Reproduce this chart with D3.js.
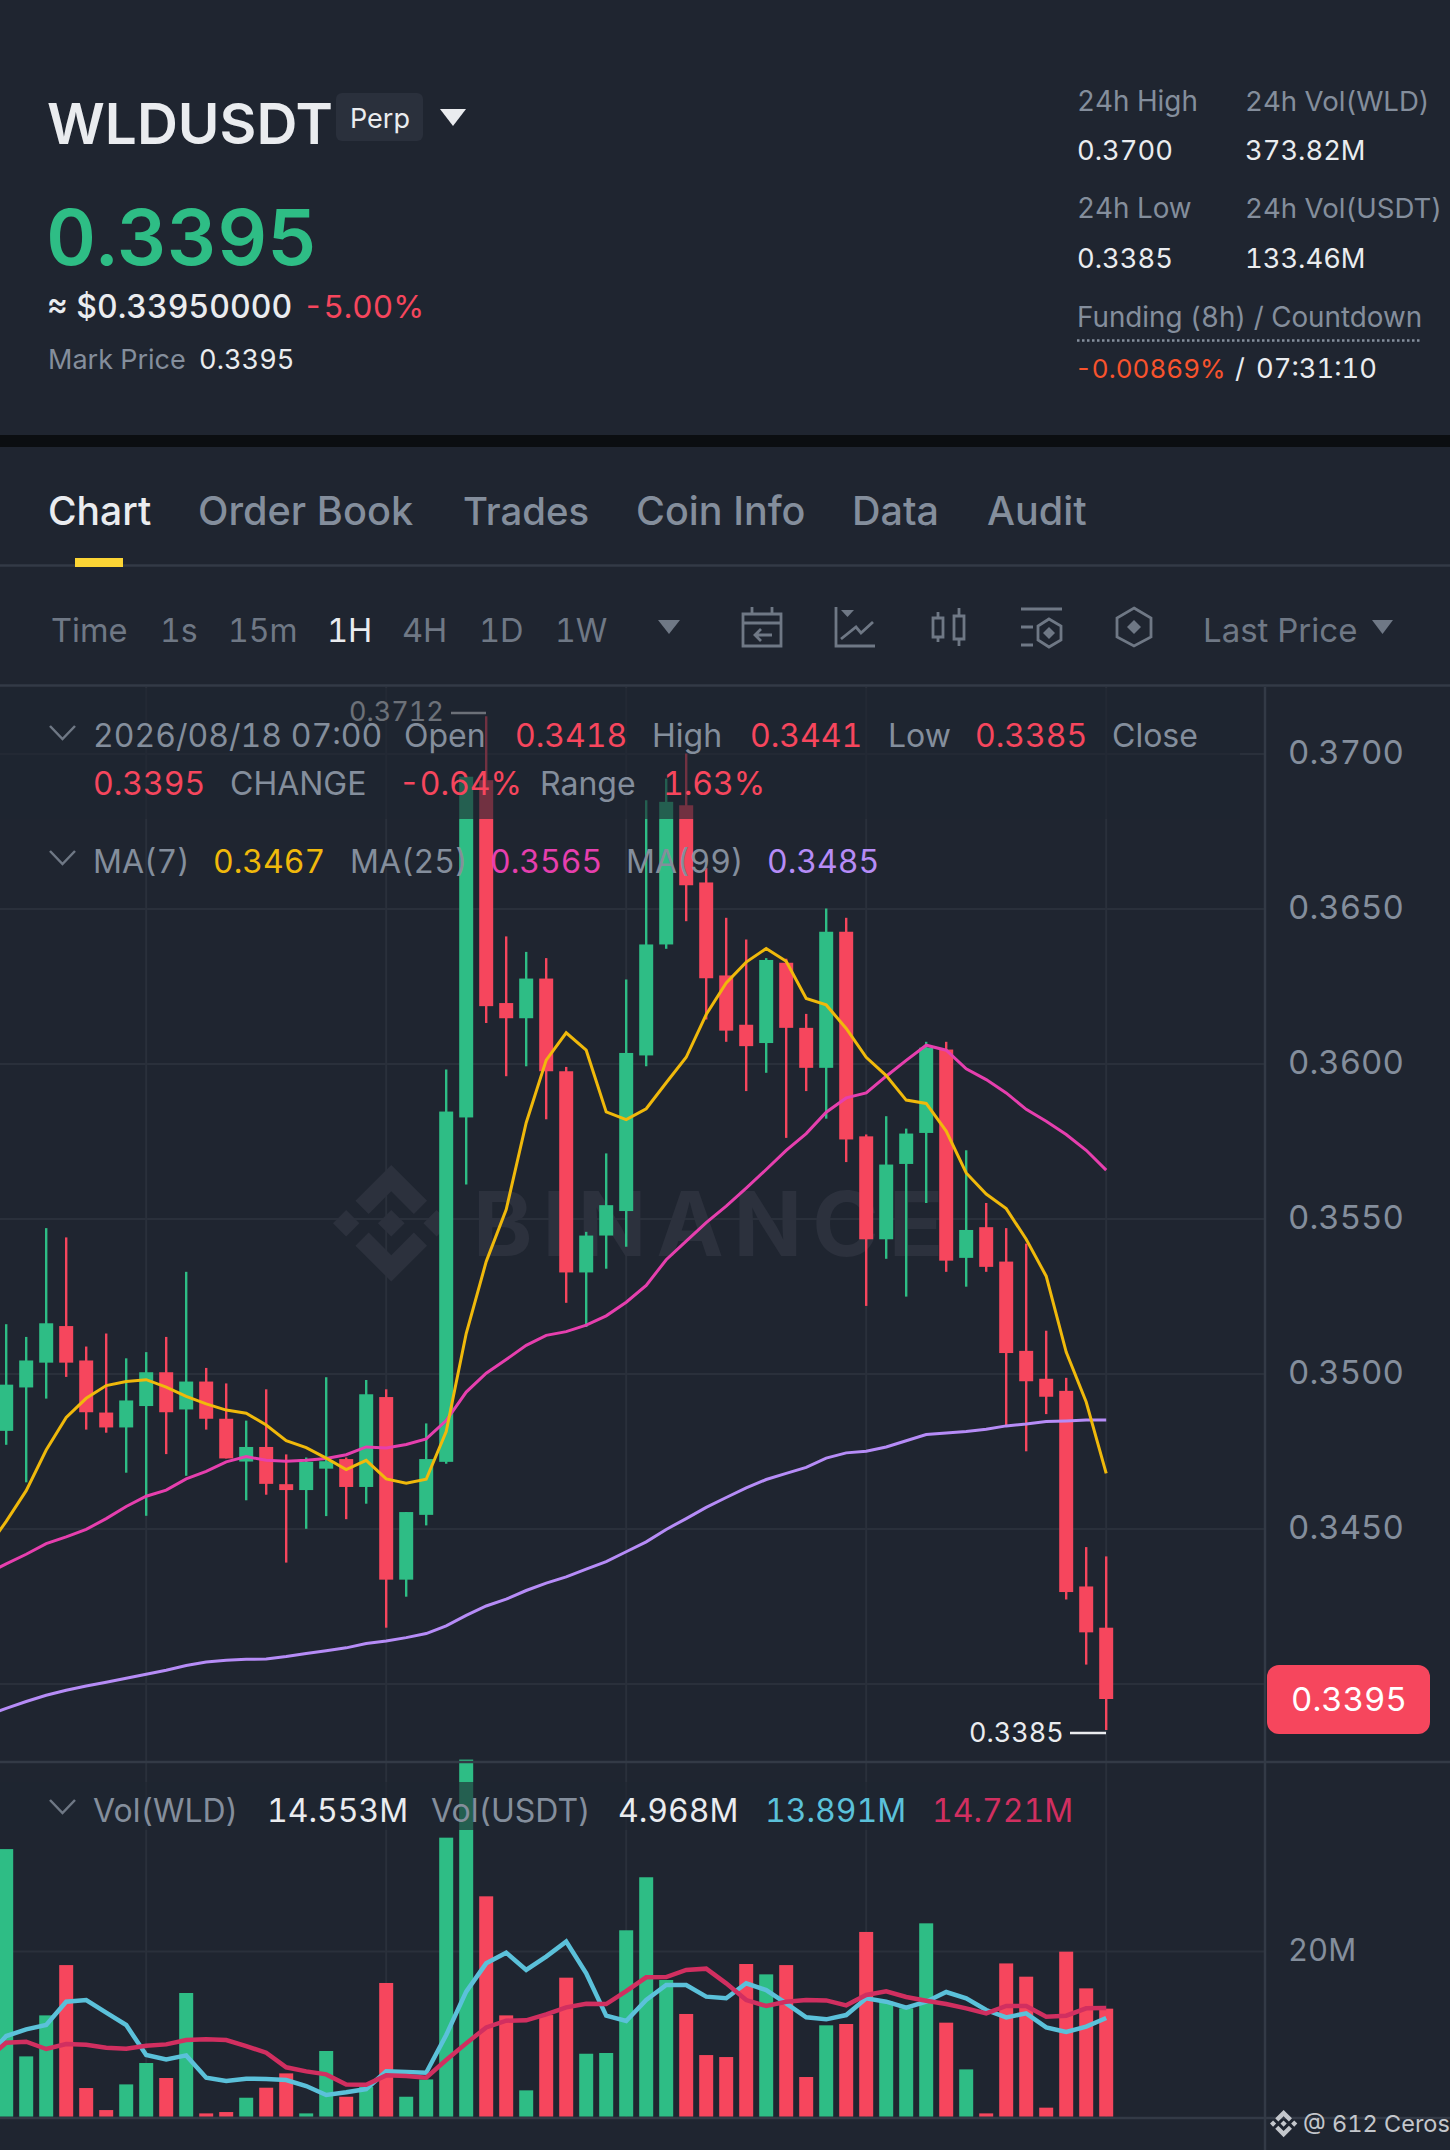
<!DOCTYPE html>
<html>
<head>
<meta charset="utf-8">
<script src="https://cdnjs.cloudflare.com/ajax/libs/d3/7.8.5/d3.min.js"></script>
<style>
  html, body { margin: 0; padding: 0; background: #1f2530; }
  svg { display: block; }
  text { font-family: Inter, sans-serif; font-variant-numeric: tabular-nums; }
  .axis path { display: none; }
  .grid line { stroke: #2a303b; stroke-width: 2; }
  .grid text { display: none; }
  .yaxis text { fill: #848e9c; font-size: 33px; }
  .yaxis line { display: none; }
</style>
</head>
<body>
<svg id="chart" width="1450" height="2150"></svg>
<script>
// hourly candles
const opens  = [.34815,.34955,.35035,.35153,.35042,.34874,.34826,.34895,.35004,.34884,.34974,.34854,.34716,.34763,.34643,.34624,.34693,.34724,.34634,.34924,.34335,.34544,.34715,.35826,.36914,.36195,.36146,.36274,.35975,.35326,.35445,.35524,.36026,.36384,.36833,.36584,.36284,.36125,.36066,.36325,.36115,.35986,.36425,.35765,.35433,.35676,.35776,.36045,.35373,.35472,.35361,.35073,.34983,.34944,.34313,.3418];
const highs  = [.35159,.35118,.35469,.35439,.35087,.35129,.35049,.35069,.35118,.35328,.35018,.34968,.34848,.34949,.34739,.34729,.34988,.34729,.34979,.34949,.34553,.34839,.35981,.36925,.3712,.3641,.3636,.3634,.35989,.35457,.3571,.36271,.36849,.36919,.37,.36631,.3647,.364,.3634,.36338,.3616,.365,.3647,.35771,.3583,.3579,.3607,.3607,.3572,.3555,.35469,.35419,.35138,.34986,.3444,.3441];
const lows   = [.3477,.34649,.34919,.34989,.34819,.34809,.3468,.34541,.3474,.3467,.34819,.34726,.34591,.34609,.3439,.34499,.3454,.3453,.3458,.3418,.3428,.3451,.34709,.3561,.36131,.35959,.35991,.3582,.35228,.3515,.35338,.35409,.35991,.3637,.36459,.36142,.3607,.35911,.3597,.3576,.35911,.35822,.35682,.35218,.3537,.35248,.3555,.35328,.3528,.35328,.34834,.34749,.34869,.34271,.34061,.3385];
const closes = [.34964,.35042,.35162,.35035,.34875,.34826,.34913,.35004,.34875,.34974,.34854,.34726,.34763,.34644,.34624,.34715,.34717,.34634,.34933,.34335,.34553,.34724,.35845,.36925,.36185,.36146,.36274,.35975,.35326,.35445,.35543,.36034,.36384,.36844,.36575,.36275,.36106,.36056,.36334,.36115,.35986,.36425,.35755,.35433,.35674,.35774,.36051,.35364,.35463,.35344,.35066,.34975,.34925,.34295,.34165,.3395];

// moving averages start one candle earlier, off the left edge
const ma7  = [.34431,.34523,.34622,.34753,.34858,.3492,.34961,.34974,.3498,.34956,.34926,.34902,.34882,.34872,.34834,.34783,.34761,.34727,.3469,.3472,.3466,.34646,.34659,.34813,.35129,.35361,.35529,.35809,.36011,.36099,.36043,.35844,.35819,.35854,.35938,.3602,.36158,.3626,.36327,.36371,.3633,.3621,.36189,.36113,.3602,.35961,.35882,.35871,.35782,.35647,.35579,.35532,.35433,.35314,.35069,.34908,.34678];
const ma25 = [.34353,.34386,.34417,.34451,.34473,.34497,.34532,.34571,.34604,.34624,.3466,.34684,.34715,.34732,.3472,.34717,.3472,.34726,.34738,.34763,.3476,.34771,.34789,.34848,.3494,.35001,.35045,.35091,.35123,.35135,.35156,.35186,.3523,.35284,.35367,.35427,.35487,.3554,.35598,.35658,.3572,.35774,.35843,.35889,.35905,.35959,.3601,.36059,.36043,.35983,.35948,.35905,.35852,.35814,.35771,.3572,.35656];
const ma99 = [.33896,.3392,.33942,.33962,.33978,.33992,.34004,.34017,.3403,.34043,.34058,.34069,.34075,.34078,.34079,.34087,.34097,.34106,.34115,.34129,.34137,.34148,.34161,.34186,.3422,.3425,.34272,.343,.34324,.34344,.34369,.34393,.34425,.34457,.34497,.34532,.34568,.346,.34631,.34658,.34678,.34697,.34727,.34744,.34749,.34763,.34783,.34803,.34808,.34813,.3482,.34831,.34837,.34845,.34847,.3485,.3485];

// volume in millions
const volumes = [32.3,7.28,12.23,18.3,3.46,.8,3.9,6.48,4.67,14.93,.4,.56,2.29,3.5,5.23,.4,7.93,2.41,3.62,16.14,2.41,4.5,33.68,43.1,26.6,12.23,3.18,12.27,16.78,7.6,7.69,22.5,28.9,16.5,12.4,7.44,7.2,18.43,17.18,18.3,4.79,11.03,11.19,22.3,13.9,13.08,23.34,11.35,5.71,.4,18.5,16.9,1.09,19.92,15.49,13.04];
const volMaShort = [7.04,9.74,10.54,11.07,13.88,14.08,12.56,11.07,7.44,6.92,7.4,4.71,4.31,4.59,4.55,4.43,3.7,2.62,2.94,3.34,5.47,5.39,5.31,9.86,15.09,18.51,19.8,17.71,19.32,21.13,17.3,12.19,11.55,14.08,15.9,15.9,14.49,14.29,16.1,15.29,13.68,11.99,11.75,12.27,14.29,13.88,13.16,13.88,15.05,14.29,12.88,11.99,12.47,10.78,10.22,10.87,11.91];
const volMaLong  = [6.84,8.93,9.05,8.17,8.77,8.69,8.33,8.21,8.57,8.73,9.26,9.34,9.26,8.53,7.73,5.96,5.47,5.11,3.9,3.86,4.99,4.91,4.71,6.84,8.85,10.78,11.59,11.63,12.35,13.2,13.64,13.6,15.17,16.82,16.86,17.71,17.87,16.1,14.08,13.36,13.88,14.08,14.04,13.44,14.69,15.13,14.45,14,13.6,13.08,12.47,13.36,13.36,12.07,12.19,13.08,13.12];

const priceTicks = [.37,.365,.36,.355,.35,.345,.34];
const priceLabels = [.37,.365,.36,.355,.35,.345];
const volTicks = [20];
const gridCandles = [7,19,31,43,55];

const GREEN = '#2ebd85', RED = '#f6465d', MUTED = '#848e9c', DIM = '#6f7885', WHITE = '#eaecef';
const BG = '#1f2530', LINE = '#333a46';
const LOGO = 'M38.73 53.2l24.59-24.58 24.6 24.6 14.3-14.31L63.32 0 24.43 38.9zM0 63.31l14.3-14.31 14.31 14.31-14.31 14.3zM38.73 73.41l24.59 24.59 24.6-24.6 14.31 14.29-38.9 38.91-38.91-38.88-.02-.02zM98.32 63.31l14.3-14.31 14.31 14.31-14.31 14.3zM77.83 63.3L63.32 48.78 52.59 59.51l-1.24 1.23-2.54 2.54 14.51 14.5 14.51-14.47z';

const svg = d3.select('#chart');

const x = d3.scaleLinear().domain([0, 55]).range([6.2, 1106.2]);
const yPrice = d3.scaleLinear().domain([.34, .37]).range([1683.5, 753.5]);
const yVol = d3.scaleLinear().domain([0, 20]).range([2116.7, 1951]);

function label(x0, y0, str, size, fill, weight) {
  return svg.append('text').attr('x', x0).attr('y', y0)
    .attr('font-size', size).attr('fill', fill).attr('font-weight', weight || 400)
    .text(str);
}
function tri(x0, x1, y0, y1, fill) {
  svg.append('path').attr('fill', fill)
    .attr('d', `M${x0},${y0}L${x1},${y0}L${(x0 + x1) / 2},${y1}Z`);
}
function chevron(y0) {
  svg.append('path').attr('fill', 'none').attr('stroke', DIM).attr('stroke-width', 2.5)
    .attr('d', `M50,${y0}L62.5,${y0 + 13}L75,${y0}`);
}

// header
label(47, 144, 'WLDUSDT', 56.7, WHITE, 600);
svg.append('rect').attr('x', 336).attr('y', 93).attr('width', 87).attr('height', 48).attr('rx', 6).attr('fill', '#2a303c');
label(350, 128, 'Perp', 27, WHITE);
tri(440, 466, 109, 126, WHITE);
label(46, 265, '0.3395', 77.5, GREEN, 600);
label(47, 318, '≈ $0.33950000', 32, WHITE, 500);
label(303, 318, '-5.00%', 31.5, RED);
label(48, 369, 'Mark Price', 27, MUTED);
label(199, 369, '0.3395', 27.2, WHITE);

label(1077, 111, '24h High', 27.8, MUTED);
label(1245, 111, '24h Vol(WLD)', 27.6, MUTED);
label(1077, 159.5, '0.3700', 27.3, WHITE);
label(1245, 159.5, '373.82M', 27.3, WHITE);
label(1077, 218, '24h Low', 27.8, MUTED);
label(1245, 218, '24h Vol(USDT)', 27.6, MUTED);
label(1077, 267.5, '0.3385', 27.3, WHITE);
label(1245, 267.5, '133.46M', 27.3, WHITE);
label(1077, 327, 'Funding (8h) / Countdown', 27.8, MUTED);
svg.append('line').attr('x1', 1077).attr('x2', 1422).attr('y1', 340.5).attr('y2', 340.5)
  .attr('stroke', MUTED).attr('stroke-width', 2.5).attr('stroke-dasharray', '2.5 2.5');
label(1075, 378, '-0.00869%', 26, '#f8532d');
label(1235, 378, '/', 27.3, WHITE);
label(1256, 378, '07:31:10', 27.3, WHITE);

svg.append('rect').attr('x', 0).attr('y', 435).attr('width', 1450).attr('height', 12).attr('fill', '#0b0e11');

// tabs
label(48, 525, 'Chart', 39, WHITE, 500);
label(198, 525, 'Order Book', 39.7, MUTED, 500);
label(463, 525, 'Trades', 38.3, MUTED, 500);
label(636, 525, 'Coin Info', 39.5, MUTED, 500);
label(852, 525, 'Data', 39.5, MUTED, 500);
label(987, 525, 'Audit', 39.5, MUTED, 500);
svg.append('line').attr('x1', 0).attr('x2', 1450).attr('y1', 565.5).attr('y2', 565.5).attr('stroke', LINE).attr('stroke-width', 2.5);
svg.append('rect').attr('x', 75).attr('y', 558).attr('width', 48).attr('height', 9).attr('fill', '#fcd535');

// interval toolbar
label(51, 642, 'Time', 32.6, DIM);
label(160, 642, '1s', 32, DIM);
label(228, 642, '15m', 32, DIM);
label(327, 642, '1H', 32.6, WHITE);
label(402, 642, '4H', 32.6, DIM);
label(479, 642, '1D', 32.6, DIM);
label(555, 642, '1W', 32, DIM);
tri(658, 680, 620, 634, DIM);
label(1203, 642, 'Last Price', 33, DIM);
tri(1372, 1393, 620, 634, DIM);

const icons = svg.append('g').attr('fill', 'none').attr('stroke', DIM).attr('stroke-width', 2.8);
// calendar
icons.append('path').attr('d', 'M743,614H781V646H743ZM743,623H781M752,607V614M772,607V614M772,635H755M761,629L755,635L761,641');
// chart
icons.append('path').attr('d', 'M836,607V646H875M841,639L856,627L861,633L873,622');
svg.append('path').attr('fill', DIM).attr('d', 'M841,610H854L847.5,617Z');
// candles
icons.append('path').attr('d', 'M933,618H943V637H933ZM938,612V618M938,637V642M954,616H964V639H954ZM959,608V616M959,639V646');
// list + hexagon
icons.append('path').attr('d', 'M1021,609H1062M1021,627H1033M1021,645H1033M1049,619L1061,626V640L1049,647L1038,640V626Z');
svg.append('path').attr('fill', DIM).attr('d', 'M1049,627L1055,633L1049,639L1043,633Z');
icons.append('path').attr('d', 'M1134,608L1151,618V637L1134,646L1117,637V618Z');
svg.append('path').attr('fill', DIM).attr('d', 'M1134,620L1141,627L1134,634L1127,627Z');

svg.append('line').attr('x1', 0).attr('x2', 1450).attr('y1', 685.5).attr('y2', 685.5).attr('stroke', LINE).attr('stroke-width', 2.5);

// grid
svg.append('g').attr('class', 'axis grid')
  .attr('transform', 'translate(1265,0)')
  .call(d3.axisLeft(yPrice).tickValues(priceTicks).tickSize(1265));
svg.append('g').attr('class', 'axis grid')
  .attr('transform', 'translate(1265,0)')
  .call(d3.axisLeft(yVol).tickValues(volTicks).tickSize(1265));
svg.append('g').selectAll('line').data(gridCandles).join('line')
  .attr('x1', x).attr('x2', x).attr('y1', 687).attr('y2', 2117)
  .attr('stroke', '#2a303b').attr('stroke-width', 2);

// watermark
svg.append('path').attr('transform', 'translate(333,1165) scale(.92)').attr('fill', '#2c313d').attr('d', LOGO);
label(473, 1256, 'BINANCE', 90, '#2c313d', 700).attr('letter-spacing', 10);

// candles
const idx = d3.range(opens.length);
const color = i => closes[i] >= opens[i] ? GREEN : RED;
const candle = svg.append('g');
candle.selectAll('line').data(idx).join('line')
  .attr('x1', x).attr('x2', x)
  .attr('y1', i => yPrice(highs[i])).attr('y2', i => yPrice(lows[i]))
  .attr('stroke', color).attr('stroke-width', 2.4);
candle.selectAll('rect').data(idx).join('rect')
  .attr('x', i => x(i) - 7).attr('width', 14)
  .attr('y', i => yPrice(Math.max(opens[i], closes[i])))
  .attr('height', i => Math.max(1, Math.abs(yPrice(opens[i]) - yPrice(closes[i]))))
  .attr('fill', color);

const priceLine = d3.line().x((d, i) => x(i - 1)).y(d => yPrice(d));
[[ma99, '#b68cf7'], [ma25, '#e63fae'], [ma7, '#f0b90b']].forEach(([vals, c]) => {
  svg.append('path').datum(vals).attr('d', priceLine)
    .attr('fill', 'none').attr('stroke', c).attr('stroke-width', 3);
});

// high / low markers
label(349, 721, '0.3712', 27, WHITE);
svg.append('line').attr('x1', 451).attr('x2', 486).attr('y1', 713).attr('y2', 713).attr('stroke', WHITE).attr('stroke-width', 2.5);
label(969, 1742, '0.3385', 27, WHITE);
svg.append('line').attr('x1', 1070).attr('x2', 1106).attr('y1', 1733).attr('y2', 1733).attr('stroke', WHITE).attr('stroke-width', 2.5);

// volume bars
svg.append('g').selectAll('rect').data(idx).join('rect')
  .attr('x', i => x(i) - 7).attr('width', 14)
  .attr('y', i => yVol(volumes[i]))
  .attr('height', i => yVol(0) - yVol(volumes[i]))
  .attr('fill', color);
const volLine = d3.line().x((d, i) => x(i - 1)).y(d => yVol(d));
[[volMaShort, '#5bc1da'], [volMaLong, '#d12f60']].forEach(([vals, c]) => {
  svg.append('path').datum(vals).attr('d', volLine)
    .attr('fill', 'none').attr('stroke', c).attr('stroke-width', 4.5);
});

// legend backdrop dims whatever runs under the text rows
svg.append('rect').attr('x', 0).attr('y', 688).attr('width', 1240).attr('height', 131).attr('fill', BG).attr('opacity', .62);
svg.append('rect').attr('x', 0).attr('y', 1782).attr('width', 1100).attr('height', 48).attr('fill', BG).attr('opacity', .62);

// axis frame
svg.append('line').attr('x1', 0).attr('x2', 1450).attr('y1', 1762).attr('y2', 1762).attr('stroke', LINE).attr('stroke-width', 2.5);
svg.append('line').attr('x1', 0).attr('x2', 1450).attr('y1', 2118).attr('y2', 2118).attr('stroke', LINE).attr('stroke-width', 2.5);
svg.append('line').attr('x1', 1265).attr('x2', 1265).attr('y1', 687).attr('y2', 2150).attr('stroke', LINE).attr('stroke-width', 2.5);

svg.append('g').attr('class', 'axis yaxis')
  .attr('transform', 'translate(1265,0)')
  .call(d3.axisRight(yPrice).tickValues(priceLabels).tickSize(0).tickPadding(23).tickFormat(d3.format('.4f')))
  .selectAll('text').attr('dy', '.3em');
svg.append('g').attr('class', 'axis yaxis')
  .attr('transform', 'translate(1265,0)')
  .call(d3.axisRight(yVol).tickValues(volTicks).tickSize(0).tickPadding(23).tickFormat(d => d + 'M'))
  .selectAll('text').attr('dy', '.3em').attr('font-size', 31).style('font-size', '31px');

// last price tag
svg.append('rect').attr('x', 1267).attr('y', 1665).attr('width', 163).attr('height', 69).attr('rx', 12).attr('fill', RED);
label(1291, 1711, '0.3395', 33, '#fff');

// legends
const LEG = 32;
chevron(726);
label(93, 747, '2026/08/18 07:00', LEG, MUTED);
label(404, 747, 'Open', LEG, MUTED);
label(515, 747, '0.3418', LEG, RED);
label(652, 747, 'High', LEG, MUTED);
label(750, 747, '0.3441', LEG, RED);
label(888, 747, 'Low', LEG, MUTED);
label(975, 747, '0.3385', LEG, RED);
label(1112, 747, 'Close', LEG, MUTED);
label(93, 795, '0.3395', LEG, RED);
label(230, 795, 'CHANGE', LEG, MUTED);
label(399, 795, '-0.64%', LEG, RED);
label(540, 795, 'Range', LEG, MUTED);
label(663, 795, '1.63%', LEG, RED);

chevron(851);
label(93, 873, 'MA(7)', LEG, MUTED);
label(213, 873, '0.3467', LEG, '#f0b90b');
label(350, 873, 'MA(25)', LEG, MUTED);
label(490, 873, '0.3565', LEG, '#e63fae');
label(626, 873, 'MA(99)', LEG, MUTED);
label(767, 873, '0.3485', LEG, '#b68cf7');

chevron(1800);
label(93, 1822, 'Vol(WLD)', LEG, MUTED);
label(267, 1822, '14.553M', LEG, WHITE);
label(431, 1822, 'Vol(USDT)', LEG, MUTED);
label(618, 1822, '4.968M', LEG, WHITE);
label(765, 1822, '13.891M', LEG, '#5bc1da');
label(932, 1822, '14.721M', LEG, '#d12f60');

// attribution
svg.append('path').attr('transform', 'translate(1270,2110) scale(.215)').attr('fill', '#c4c7cc').attr('d', LOGO);
label(1303, 2132, '@ 612 Ceros', 23.5, '#c4c7cc');
</script>
</body>
</html>
